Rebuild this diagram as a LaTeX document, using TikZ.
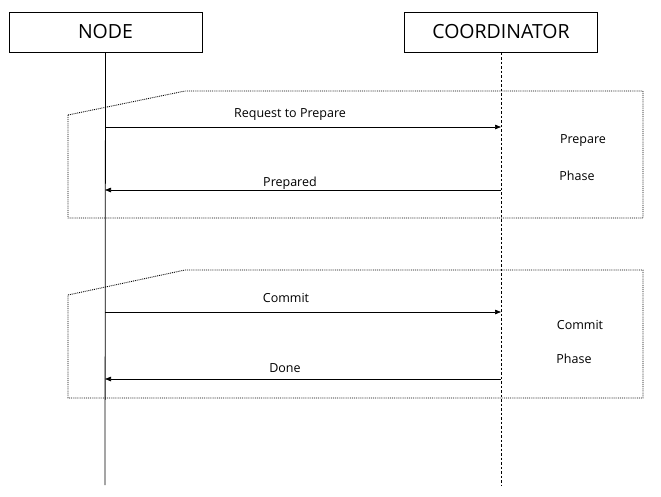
\documentclass[tikz,border=0pt]{standalone}
\usepackage{fontspec}
\setmainfont{Open Sans}
\usetikzlibrary{arrows.meta}
\begin{document}
\begin{tikzpicture}[x=1pt,y=-1pt,
  box/.style={draw,line width=1pt,minimum width=193pt,minimum height=40pt,inner sep=0pt,font=\fontsize{19.5}{22}\selectfont},
  msg/.style={-{Triangle[length=6pt,width=4.5pt]},line width=0.7pt},
  lbl/.style={font=\fontsize{12.5}{14}\selectfont,inner sep=0pt},
  frame/.style={densely dotted,line width=0.9pt}]
\useasboundingbox (0,0) rectangle (661,496);
\node[box] (n) at (105.5,32) {NODE};
\node[box] (c) at (501,32) {COORDINATOR};
\coordinate (ne) at (105,485);
\coordinate (ce) at (501,485);
\draw[line width=0.8pt] (n.south) -- (ne);
\draw[line width=0.6pt,dash pattern=on 2.5pt off 2pt] (c.south) -- (ce);
\draw[frame] (68,115) -- (185,91) -- (643,91) -- (643,218) -- (68,218) -- cycle;
\draw[frame] (68,295) -- (185,270) -- (643,270) -- (643,398) -- (68,398) -- cycle;
\coordinate (a1) at (105,127); \coordinate (b1) at (501,127);
\coordinate (a2) at (105,190); \coordinate (b2) at (501,190);
\coordinate (a3) at (105,312); \coordinate (b3) at (501,312);
\coordinate (a4) at (105,379); \coordinate (b4) at (501,379);
\draw[msg] (a1) -- (b1);
\draw[msg] (b2) -- (a2);
\draw[msg] (a3) -- (b3);
\draw[msg] (b4) -- (a4);
\node[lbl] (l1) at (290,115) {Request to Prepare};
\node[lbl] (l2) at (290,183) {Prepared};
\node[lbl] (l3) at (286,298) {Commit};
\node[lbl] (l4) at (285,368) {Done};
\node[lbl] (p1) at (583,141) {Prepare};
\node[lbl] (p2) at (577,176) {Phase};
\node[lbl] (p3) at (580,325) {Commit};
\node[lbl] (p4) at (574,359) {Phase};
\end{tikzpicture}
\end{document}
